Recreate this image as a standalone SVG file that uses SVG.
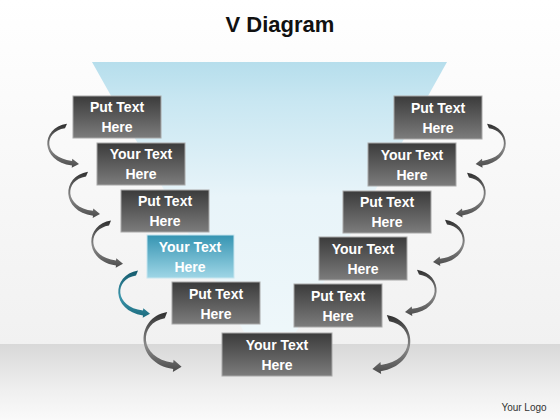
<svg xmlns="http://www.w3.org/2000/svg" width="560" height="420" viewBox="0 0 560 420">
<defs>
<linearGradient id="bg" x1="0" y1="0" x2="0" y2="1">
<stop offset="0" stop-color="#ffffff"/>
<stop offset="0.4" stop-color="#f8f8f8"/>
<stop offset="1" stop-color="#eeeeee"/>
</linearGradient>
<linearGradient id="floor" x1="0" y1="0" x2="0" y2="1">
<stop offset="0" stop-color="#d8d8d8"/>
<stop offset="0.6" stop-color="#efefef"/>
<stop offset="1" stop-color="#fafafa"/>
</linearGradient>
<linearGradient id="funnel" x1="0" y1="0" x2="0" y2="1">
<stop offset="0" stop-color="#b6deec"/>
<stop offset="0.15" stop-color="#c9e7f2"/>
<stop offset="0.5" stop-color="#e8f4f9"/>
<stop offset="1" stop-color="#eef7fa"/>
</linearGradient>
<linearGradient id="box" x1="0" y1="0" x2="0" y2="1">
<stop offset="0" stop-color="#3b3b3b"/>
<stop offset="1" stop-color="#7c7c7c"/>
</linearGradient>
<linearGradient id="boxBlue" x1="0" y1="0" x2="0" y2="1">
<stop offset="0" stop-color="#3594b2"/>
<stop offset="1" stop-color="#9fd6e6"/>
</linearGradient>
<linearGradient id="arr" x1="0" y1="0" x2="0" y2="1">
<stop offset="0" stop-color="#2e2e2e"/>
<stop offset="0.55" stop-color="#8a8a8a"/>
<stop offset="1" stop-color="#4a4a4a"/>
</linearGradient>
<linearGradient id="arrT" x1="0" y1="0" x2="0" y2="1">
<stop offset="0" stop-color="#14596b"/>
<stop offset="0.55" stop-color="#3b95ab"/>
<stop offset="1" stop-color="#1c6b7e"/>
</linearGradient>
<path id="la" d="M 1,-2.4 C -26,2 -26,38 6,42.5 L 5.7,44.8 L 13,40.8 L 6.3,35.2 L 6,37.5 C -23,34 -23,6 -1,2.5 Z"/>
</defs>
<style>
.b{fill:url(#box);stroke:#a8a8a8;stroke-width:1}
.bb{fill:url(#boxBlue);stroke:#c8e6ef;stroke-width:1}
.t{font-family:"Liberation Sans",Arial,sans-serif;font-weight:bold;font-size:14px;fill:#ffffff;text-anchor:middle}
.a{fill:url(#arr)}
.at{fill:url(#arrT)}
</style>
<rect x="0" y="0" width="560" height="420" fill="url(#bg)"/>
<rect x="0" y="344" width="560" height="76" fill="url(#floor)"/>
<polygon points="92,62 447,62 296,332 244,332" fill="url(#funnel)"/>
<text x="280" y="32" font-family="Liberation Sans,Arial,sans-serif" font-weight="bold" font-size="22" text-anchor="middle" fill="#111111">V Diagram</text>
<text x="524" y="411" font-family="Liberation Sans,Arial,sans-serif" font-size="10" text-anchor="middle" fill="#333333">Your Logo</text>

<g id="connectors">
<use href="#la" class="a" transform="translate(66,126) scale(1,0.93)"/>
<use href="#la" class="a" transform="translate(87,174) scale(1,0.98)"/>
<use href="#la" class="a" transform="translate(110,223) scale(1,1.0)"/>
<use href="#la" class="at" transform="translate(137,273) scale(1,1.0)"/>
<use href="#la" class="a" transform="translate(166,315) scale(1.2,1.27)"/>
<use href="#la" class="a" transform="translate(488,126) scale(-0.95,0.93)"/>
<use href="#la" class="a" transform="translate(468,175) scale(-0.95,0.95)"/>
<use href="#la" class="a" transform="translate(446,222) scale(-1,0.98)"/>
<use href="#la" class="a" transform="translate(418,272) scale(-1,0.98)"/>
<use href="#la" class="a" transform="translate(388,318) scale(-1.2,1.25)"/>
</g>

<g id="l1"><rect class="b" x="73" y="96" width="88" height="42"/><text class="t" x="117" y="112">Put Text</text><text class="t" x="117" y="132">Here</text></g>
<g id="l2"><rect class="b" x="97" y="143" width="88" height="42"/><text class="t" x="141" y="159">Your Text</text><text class="t" x="141" y="179">Here</text></g>
<g id="l3"><rect class="b" x="121" y="190" width="88" height="42"/><text class="t" x="165" y="206">Put Text</text><text class="t" x="165" y="226">Here</text></g>
<g id="l4"><rect class="bb" x="147" y="235" width="87" height="43"/><text class="t" x="190" y="252">Your Text</text><text class="t" x="190" y="272">Here</text></g>
<g id="l5"><rect class="b" x="172" y="282" width="88" height="42"/><text class="t" x="216" y="299">Put Text</text><text class="t" x="216" y="319">Here</text></g>
<g id="bottom"><rect class="b" x="222" y="333" width="110" height="43"/><text class="t" x="277" y="350">Your Text</text><text class="t" x="277" y="370">Here</text></g>
<g id="r1"><rect class="b" x="394" y="96" width="88" height="43"/><text class="t" x="438" y="113">Put Text</text><text class="t" x="438" y="133">Here</text></g>
<g id="r2"><rect class="b" x="368" y="143" width="88" height="43"/><text class="t" x="412" y="160">Your Text</text><text class="t" x="412" y="180">Here</text></g>
<g id="r3"><rect class="b" x="343" y="191" width="88" height="42"/><text class="t" x="387" y="207">Put Text</text><text class="t" x="387" y="227">Here</text></g>
<g id="r4"><rect class="b" x="319" y="237" width="88" height="43"/><text class="t" x="363" y="254">Your Text</text><text class="t" x="363" y="274">Here</text></g>
<g id="r5"><rect class="b" x="294" y="284" width="88" height="43"/><text class="t" x="338" y="301">Put Text</text><text class="t" x="338" y="321">Here</text></g>
</svg>
